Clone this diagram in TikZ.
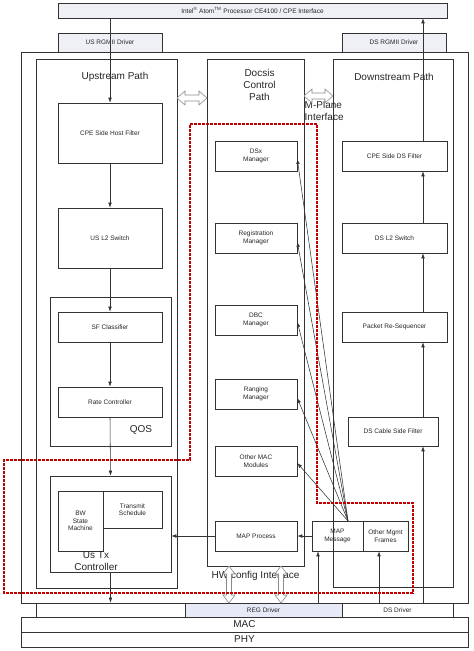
\documentclass[tikz,border=0pt]{standalone}
\usepackage{fontspec}
\setmainfont{Liberation Sans}
\usetikzlibrary{arrows.meta,calc}
\definecolor{ln}{HTML}{333333}
\definecolor{hdr}{HTML}{EEF0F5}
\definecolor{regb}{HTML}{E6EAF6}
\definecolor{rdash}{HTML}{C00000}
\definecolor{dag}{HTML}{8A8A8A}
\newcommand\hdblarrow[3]{% x1, x2, y
  \draw[dblar] (#1,#3) -- (#1+8,#3-7) -- (#1+8,#3-3) -- (#2-8,#3-3) -- (#2-8,#3-7) -- (#2,#3)
    -- (#2-8,#3+7) -- (#2-8,#3+3) -- (#1+8,#3+3) -- (#1+8,#3+7) -- cycle;}
\newcommand\vdblarrow[3]{% y1, y2, x
  \draw[dblar] (#3,#1) -- (#3-6,#1+8) -- (#3-2.5,#1+8) -- (#3-2.5,#2-8) -- (#3-6,#2-8) -- (#3,#2)
    -- (#3+6,#2-8) -- (#3+2.5,#2-8) -- (#3+2.5,#1+8) -- (#3+6,#1+8) -- cycle;}
\begin{document}
\begin{tikzpicture}[x=1pt,y=-1pt,
  box/.style={draw=ln, line width=0.6pt, fill=white, inner sep=0pt, align=center,
    font=\fontsize{6.5}{7.6}\selectfont, text=black!85},
  cont/.style={draw=ln, line width=0.6pt, inner sep=0pt},
  big/.style={font=\fontsize{10}{12}\selectfont, text=black!85, inner sep=0pt, align=center},
  arr/.style={draw=ln, line width=0.55pt, -{Latex[length=5pt,width=3.6pt]}},
  plain/.style={draw=ln, line width=0.55pt},
  dblar/.style={draw=dag, fill=white, line width=0.6pt},
  reddash/.style={draw=rdash, line width=1.8pt, dash pattern=on 2.6pt off 1.4pt}
]
\useasboundingbox (0,0) rectangle (474,651);

% outer frame and columns
\node[cont, minimum width=447pt, minimum height=551pt] (outer) at (244.5,327.5) {};
\node[cont, minimum width=141pt, minimum height=529pt] (up) at (106.5,323.5) {};
\node[cont, minimum width=97pt, minimum height=507pt] (dc) at (255.5,312.5) {};
\node[cont, minimum width=120pt, minimum height=528pt] (dn) at (393,323) {};

% top
\node[box, fill=hdr, minimum width=389pt, minimum height=15pt] (top) at (252.5,10.5)
  {Intel\textsuperscript{®} Atom\textsuperscript{TM} Processor CE4100 / CPE Interface};
\node[box, fill=hdr, minimum width=104pt, minimum height=19pt] (usrg) at (110,42.5) {US RGMII Driver};
\node[box, fill=hdr, minimum width=104pt, minimum height=19pt] (dsrg) at (394,42.5) {DS RGMII Driver};

% column titles
\node[big] (tup) at (115,77) {Upstream Path};
\node[big, font=\fontsize{10}{12.2}\selectfont] (tdc) at (259.5,85) {Docsis\\Control\\Path};
\node[big] (tdn) at (394,77) {Downstream Path};

% upstream
\node[box, minimum width=104pt, minimum height=60pt] (cphf) at (110,133) {CPE Side Host Filter};
\node[box, minimum width=104pt, minimum height=60pt] (usl2) at (110,238) {US L2 Switch};
\node[cont, fill=white, minimum width=121pt, minimum height=149pt] (qos) at (110.5,371.5) {};
\node[big] (tqos) at (141,430) {QOS};
\node[box, minimum width=104pt, minimum height=30pt] (sfc) at (110,327) {SF Classifier};
\node[box, minimum width=104pt, minimum height=30pt] (rate) at (110,402) {Rate Controller};
\node[cont, fill=white, minimum width=121pt, minimum height=96pt] (ustx) at (110.5,524) {};
\node[box, minimum width=45pt, minimum height=60pt] (bw) at (80.5,521) {BW\\State\\Machine};
\node[box, minimum width=59pt, minimum height=37pt] (ts) at (132.5,509.5) {Transmit\\Schedule};
\node[big] (tustx) at (96,561.5) {Us Tx\\Controller};

% docsis control
\node[box, minimum width=82pt, minimum height=30pt] (dsxm) at (256,156) {DSx\\Manager};
\node[box, minimum width=82pt, minimum height=30pt] (regm) at (256,238) {Registration\\Manager};
\node[box, minimum width=82pt, minimum height=30pt] (dbcm) at (256,320) {DBC\\Manager};
\node[box, minimum width=82pt, minimum height=30pt] (rngm) at (256,394) {Ranging\\Manager};
\node[box, minimum width=82pt, minimum height=30pt] (omac) at (256,461) {Other MAC\\Modules};
\node[box, minimum width=82pt, minimum height=30pt] (mapp) at (256,536) {MAP Process};

% downstream
\node[box, minimum width=105pt, minimum height=30pt] (cpds) at (394.5,156) {CPE Side DS Filter};
\node[box, minimum width=105pt, minimum height=30pt] (dsl2) at (394.5,238) {DS L2 Switch};
\node[box, minimum width=105pt, minimum height=30pt] (prs) at (394.5,327) {Packet Re-Sequencer};
\node[box, minimum width=90pt, minimum height=29pt] (dscf) at (393,431.5) {DS Cable Side Filter};
\node[box, fill=none, minimum width=51pt, minimum height=30pt] (mapm) at (337.5,536) {MAP\\Message};
\node[box, minimum width=45pt, minimum height=30pt] (omf) at (385.5,536) {Other Mgmt\\Frames};
\draw[plain] (333,551) -- (333,587);

% bottom rows
\node[box, minimum width=149pt, minimum height=14pt] (lrow) at (110.5,610) {};
\node[box, fill=regb, minimum width=157pt, minimum height=14pt] (regd) at (263.5,610) {REG Driver};
\node[box, minimum width=111pt, minimum height=14pt] (dsd) at (397.5,610) {DS Driver};
\node[box, minimum width=447pt, minimum height=15pt, font=\fontsize{10}{12}\selectfont] (mac) at (244.5,624.5) {MAC};
\node[box, minimum width=447pt, minimum height=15pt, font=\fontsize{10}{12}\selectfont] (phy) at (244.5,639.5) {PHY};

% labels
\node[big, align=left, anchor=west] (mpl) at (304.5,110.5) {M-Plane\\Interface};
\node[big] (hwc) at (255.5,576) {HW config Interface};

% interface double arrows
\hdblarrow{177}{207}{98}
\hdblarrow{304}{333}{96}
\vdblarrow{566}{603}{229}
\vdblarrow{566}{603}{281}

% columns x for arrows
\coordinate (xds) at (423,0);
\coordinate (xmm) at (318,0);
\coordinate (xof) at (379,0);
\coordinate (mo) at (348,521);

% upstream arrows
\draw[arr] (cphf.north |- top.south) -- (cphf.north);
\draw[arr] (cphf) -- (usl2);
\draw[arr] (usl2.south) -- (sfc.north);
\draw[arr] (sfc) -- (rate);
\draw[arr] (rate.south) -- (ustx.north);
\draw[arr] (ustx.south) -- (ustx.south |- lrow.north);

% downstream arrows
\draw[arr] (xds |- cpds.north) -- (xds |- top.south);
\draw[arr] (xds |- dsl2.north) -- (xds |- cpds.south);
\draw[arr] (xds |- prs.north) -- (xds |- dsl2.south);
\draw[arr] (xds |- dscf.north) -- (xds |- prs.south);
\draw[arr] (xds |- dsd.north) -- (xds |- dscf.south);

% map arrows
\draw[arr] (xmm |- dsd.north) -- (xmm |- mapm.south);
\draw[arr] (xof |- dsd.north) -- (xof |- omf.south);
\draw[arr] (mapm.west) -- (mapp.east);
\draw[arr] (mapp.west) -- (ustx.east |- mapp.west);
\draw[arr] (mo) -- ($(dsxm.east)+(0,3)$);
\draw[arr] (mo) -- ($(regm.east)+(0,4)$);
\draw[arr] (mo) -- ($(dbcm.east)+(0,2)$);
\draw[arr] (mo) -- ($(rngm.east)+(0,4)$);
\draw[arr] (mo) -- ($(omac.east)+(0,2)$);

% red dashed region
\draw[reddash] (190,124) -- (317,124) -- (317,503) -- (413,503) -- (413,593) -- (4,593) -- (4,460) -- (190,460) -- cycle;
\end{tikzpicture}
\end{document}
